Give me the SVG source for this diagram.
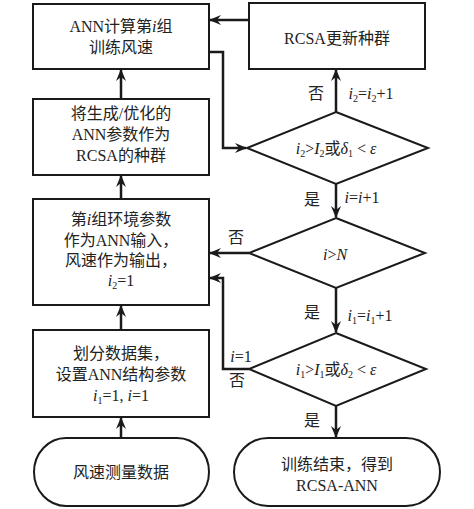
<svg xmlns="http://www.w3.org/2000/svg" width="474" height="509" viewBox="0 0 474 509">
<defs>
<style>
.n{fill:#fff;stroke:#1a1a1a;stroke-width:2}
.c{fill:none;stroke:#1a1a1a;stroke-width:2.5}
text{font-family:"Liberation Serif","Noto Sans CJK SC",serif;font-size:16px;fill:#222;text-anchor:middle}
.l{font-size:15px}
.i{font-style:italic}
</style>
<marker id="a" viewBox="0 0 12 10" refX="11" refY="5" markerWidth="12" markerHeight="10" markerUnits="userSpaceOnUse" orient="auto">
<path d="M0,0 L12,5 L0,10 L4,5 z" fill="#1a1a1a"/>
</marker>
</defs>
<rect width="474" height="509" fill="#fff"/>
<g id="connectors">
<path class="c" d="M121,438 V418" marker-end="url(#a)"/>
<path class="c" d="M121,330 V306" marker-end="url(#a)"/>
<path class="c" d="M121,199 V176" marker-end="url(#a)"/>
<path class="c" d="M121,99 V70" marker-end="url(#a)"/>
<path class="c" d="M249,20 H210" marker-end="url(#a)"/>
<path class="c" d="M209,52 H223 V148 H246" marker-end="url(#a)"/>
<path class="c" d="M336,112 V70" marker-end="url(#a)"/>
<path class="c" d="M336,184 V217" marker-end="url(#a)"/>
<path class="c" d="M249,253 H210" marker-end="url(#a)"/>
<path class="c" d="M336,288 V332" marker-end="url(#a)"/>
<path class="c" d="M249,369 H223 V278 H210" marker-end="url(#a)"/>
<path class="c" d="M336,406 V437" marker-end="url(#a)"/>
<text x="316" y="99">否</text>
<text x="371" y="99"><tspan class="i">i</tspan><tspan font-size="10" dy="3">2</tspan><tspan dy="-3">=</tspan><tspan class="i">i</tspan><tspan font-size="10" dy="3">2</tspan><tspan dy="-3">+1</tspan></text>
<text x="312" y="205">是</text>
<text x="362" y="203"><tspan class="i">i</tspan>=<tspan class="i">i</tspan>+1</text>
<text x="236" y="243">否</text>
<text x="312" y="318">是</text>
<text x="370" y="321"><tspan class="i">i</tspan><tspan font-size="10" dy="3">1</tspan><tspan dy="-3">=</tspan><tspan class="i">i</tspan><tspan font-size="10" dy="3">1</tspan><tspan dy="-3">+1</tspan></text>
<text x="241" y="362"><tspan class="i">i</tspan>=1</text>
<text x="237" y="386">否</text>
<text x="312" y="426">是</text>
</g>
<g id="n1">
<rect class="n" x="33" y="4" width="176" height="65"/>
<text x="121" y="32">ANN计算第<tspan class="i">i</tspan>组</text>
<text x="121" y="53">训练风速</text>
</g>
<g id="n2">
<rect class="n" x="33" y="99" width="176" height="76"/>
<text x="121" y="119">将生成/优化的</text>
<text x="121" y="140">ANN参数作为</text>
<text x="121" y="161">RCSA的种群</text>
</g>
<g id="n3">
<rect class="n" x="33" y="199" width="176" height="106"/>
<text x="121" y="225">第<tspan class="i">i</tspan>组环境参数</text>
<text x="121" y="246">作为ANN输入，</text>
<text x="121" y="266">风速作为输出，</text>
<text x="121" y="286"><tspan class="i">i</tspan><tspan font-size="10" dy="3">2</tspan><tspan dy="-3">=1</tspan></text>
</g>
<g id="n4">
<rect class="n" x="33" y="330" width="176" height="87"/>
<text x="121" y="359">划分数据集，</text>
<text x="121" y="380">设置ANN结构参数</text>
<text x="121" y="401"><tspan class="i">i</tspan><tspan font-size="10" dy="3">1</tspan><tspan dy="-3">=1, </tspan><tspan class="i">i</tspan>=1</text>
</g>
<g id="n5">
<rect class="n" x="34" y="438" width="175" height="68" rx="32" ry="34"/>
<text x="121" y="478">风速测量数据</text>
</g>
<g id="n6">
<rect class="n" x="249" y="3" width="176" height="66"/>
<text x="337" y="44">RCSA更新种群</text>
</g>
<g id="n7">
<polygon class="n" points="336,112 428,148 336,184 247,148"/>
<text x="336" y="154"><tspan class="i">i</tspan><tspan font-size="10" dy="3">2</tspan><tspan dy="-3">&gt;</tspan><tspan class="i">I</tspan><tspan font-size="10" dy="3">2</tspan><tspan dy="-3">或</tspan><tspan class="i">δ</tspan><tspan font-size="10" dy="3">1</tspan><tspan dy="-3"> &lt; </tspan><tspan class="i">ε</tspan></text>
</g>
<g id="n8">
<polygon class="n" points="336,218 425,253 336,288 249,253"/>
<text x="335" y="260"><tspan class="i">i</tspan>&gt;<tspan class="i">N</tspan></text>
</g>
<g id="n9">
<polygon class="n" points="336,333 426,369 336,406 249,369"/>
<text x="336" y="375"><tspan class="i">i</tspan><tspan font-size="10" dy="3">1</tspan><tspan dy="-3">&gt;</tspan><tspan class="i">I</tspan><tspan font-size="10" dy="3">1</tspan><tspan dy="-3">或</tspan><tspan class="i">δ</tspan><tspan font-size="10" dy="3">2</tspan><tspan dy="-3"> &lt; </tspan><tspan class="i">ε</tspan></text>
</g>
<g id="n10">
<rect class="n" x="234" y="438" width="206" height="68" rx="34" ry="34"/>
<text x="337" y="470">训练结束，得到</text>
<text x="337" y="491">RCSA-ANN</text>
</g>
</svg>
